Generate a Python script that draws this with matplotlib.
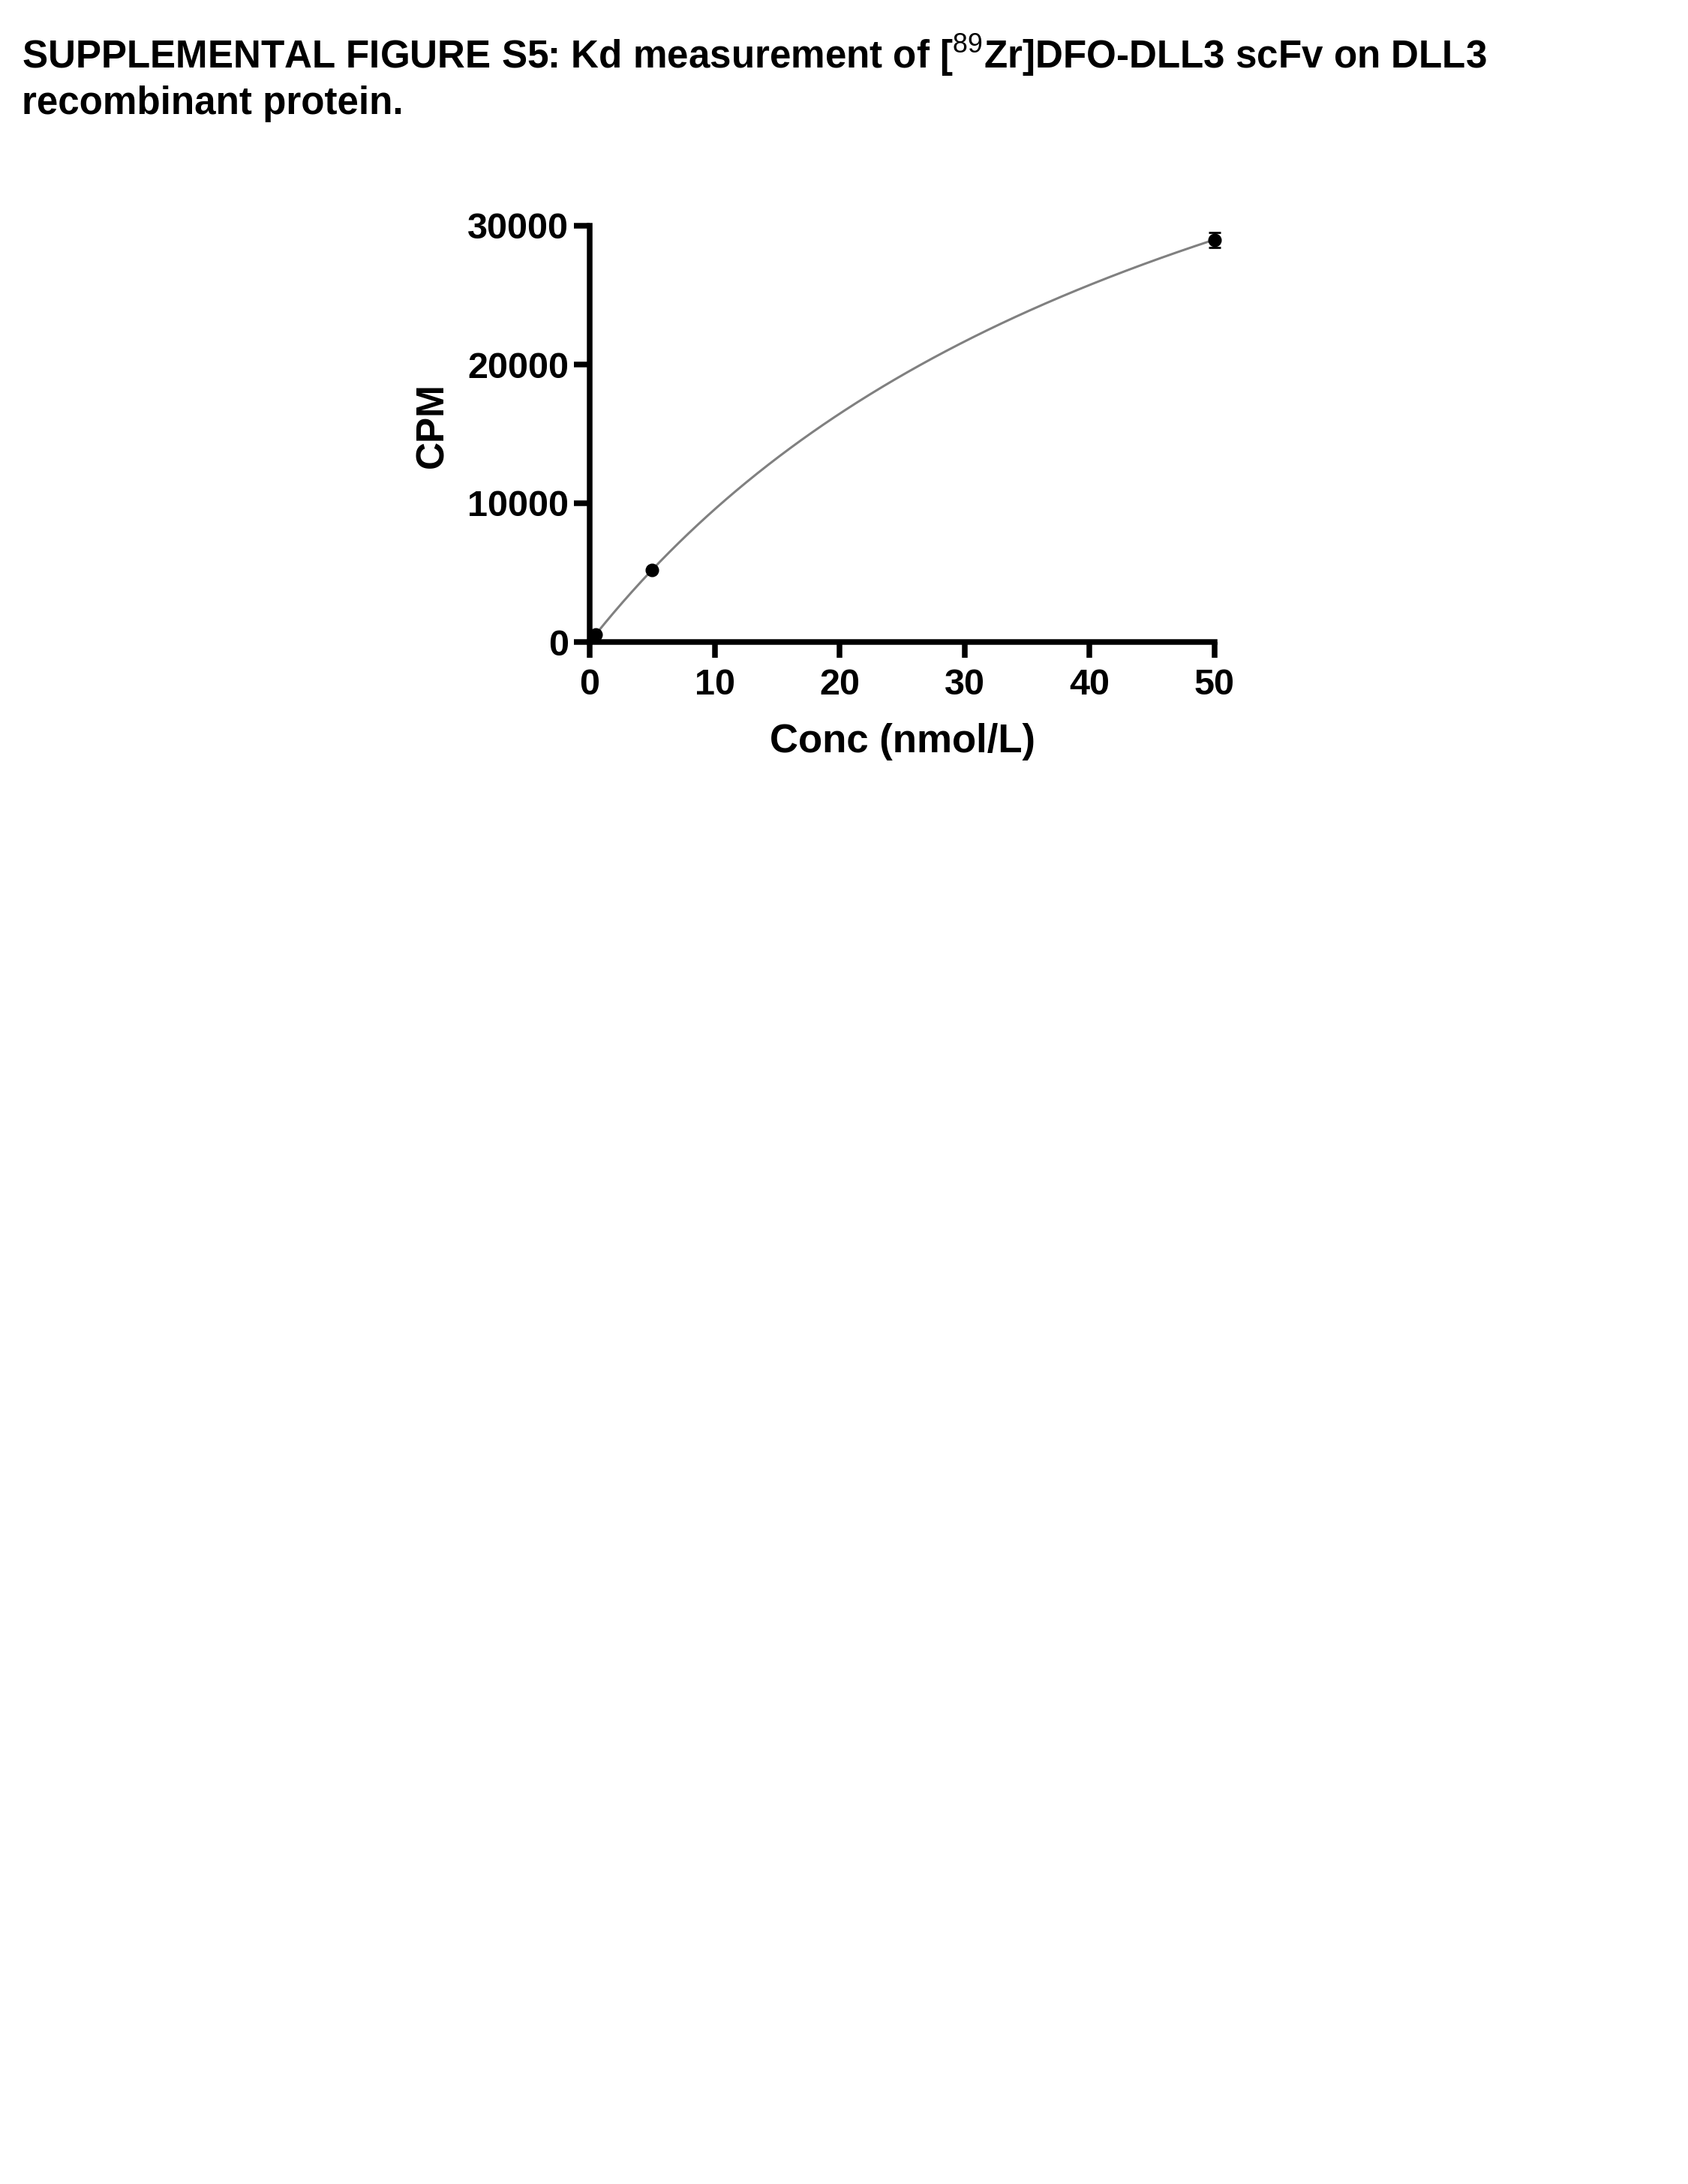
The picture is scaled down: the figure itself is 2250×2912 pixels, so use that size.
import numpy as np
import matplotlib
matplotlib.use("Agg")
import matplotlib.pyplot as plt

plt.rcParams['font.family'] = ['Liberation Sans', 'DejaVu Sans']
plt.rcParams['mathtext.fontset'] = 'custom'
plt.rcParams['mathtext.rm'] = 'Liberation Sans'
plt.rcParams['mathtext.bf'] = 'Liberation Sans:bold'

# Data
conc = [0.5, 5.0, 50.0]            # nmol/L
cpm = [540, 5200, 28970]           # CPM
cpm_err = [0, 0, 540]              # SEM
# One-site specific binding fit parameters (estimated from curve)
kd_fit = 51.7
bmax_fit = 58990
x_ticks = [0, 10, 20, 30, 40, 50]
y_ticks = [0, 10000, 20000, 30000]

title_line1 = r"SUPPLEMENTAL FIGURE S5: Kd measurement of [$^{\mathrm{89}}$Zr]DFO-DLL3 scFv on DLL3"
title_line2 = "recombinant protein."

W, H = 2250, 2912
fig = plt.figure(figsize=(W / 100, H / 100), dpi=100)
fig.patch.set_facecolor('white')

ax = fig.add_axes([786 / W, 1 - 856 / H, (1619 - 786) / W, (856 - 301) / H])

xf = np.linspace(0, 50, 400)
yf = bmax_fit * xf / (kd_fit + xf)
ax.plot(xf, yf, color='#808080', lw=2.2, zorder=2, clip_on=False)
ax.errorbar(conc, cpm, yerr=cpm_err, fmt='o', color='black', ms=12,
            ecolor='black', elinewidth=2, capsize=6, capthick=2,
            zorder=3, clip_on=False)

ax.set_xlim(0, 50)
ax.set_ylim(0, 30000)
ax.set_xticks(x_ticks)
ax.set_yticks(y_ticks)
ax.set_xticklabels([str(v) for v in x_ticks])
ax.set_yticklabels([str(v) for v in y_ticks])

for s in ['top', 'right']:
    ax.spines[s].set_visible(False)
for s in ['left', 'bottom']:
    ax.spines[s].set_linewidth(5.4)
    ax.spines[s].set_capstyle('projecting')

ax.tick_params(axis='both', which='major', length=15, width=5.4,
               labelsize=35, direction='out')
ax.tick_params(axis='x', pad=10)
ax.tick_params(axis='y', pad=5)
for lab in ax.get_xticklabels() + ax.get_yticklabels():
    lab.set_fontweight('bold')

ax.set_xlabel("Conc (nmol/L)", fontsize=38, fontweight='bold')
ax.set_ylabel("CPM", fontsize=37, fontweight='bold')
ax.xaxis.set_label_coords(0.5, -0.195)
ax.yaxis.set_label_coords(-0.222, 0.52)

fig.text(29 / W, 1 - 91 / H, title_line1, fontsize=36.8, fontweight='bold',
         ha='left', va='baseline')
fig.text(29 / W, 1 - 152 / H, title_line2, fontsize=36.8, fontweight='bold',
         ha='left', va='baseline')

fig.savefig("out.png", dpi=100, facecolor='white')
